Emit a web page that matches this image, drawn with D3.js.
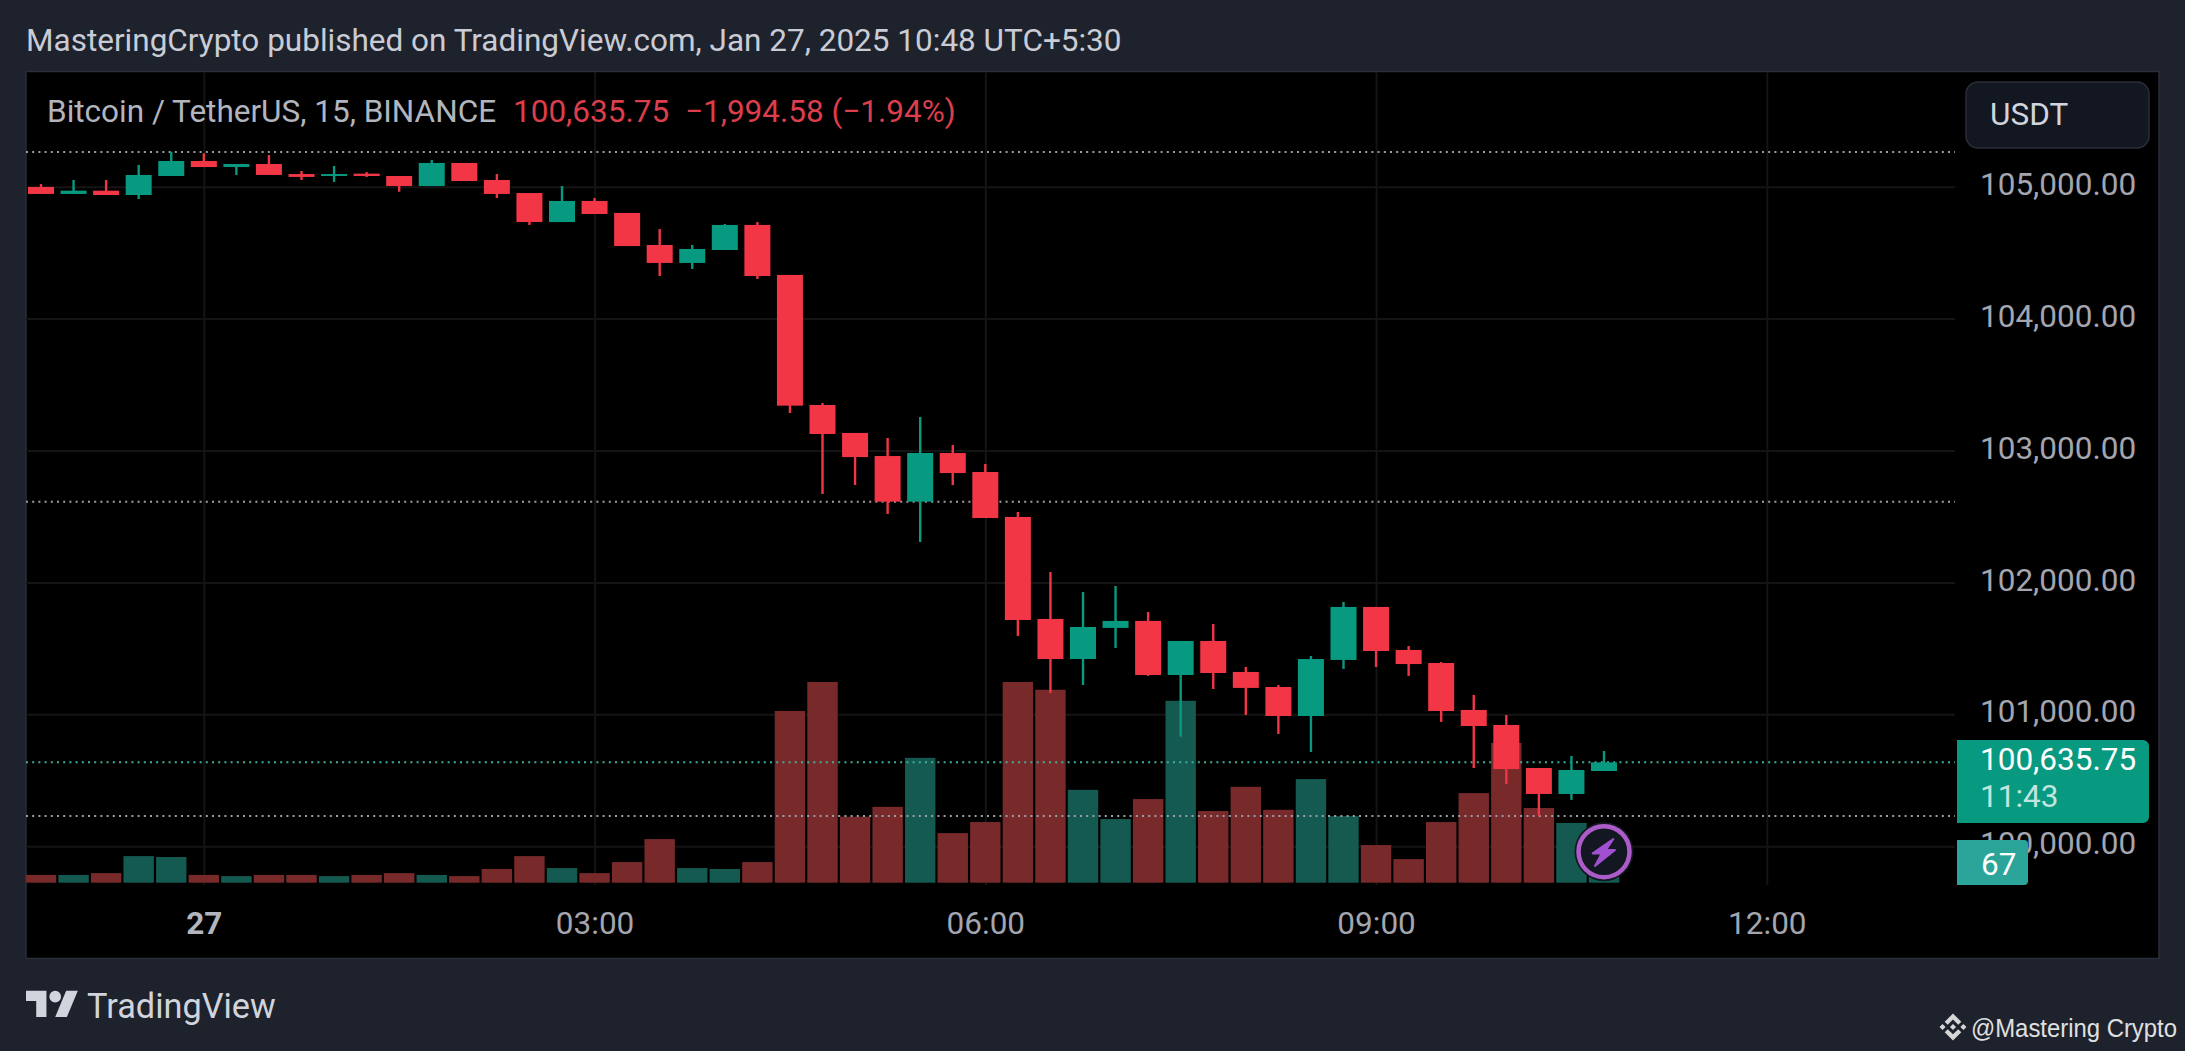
<!DOCTYPE html>
<html>
<head>
<meta charset="utf-8">
<title>BTCUSDT</title>
<script src="https://cdn.jsdelivr.net/npm/d3@7"></script>
<style>
  html, body { margin: 0; padding: 0; background: #1e222d; overflow: hidden; }
  svg { display: block; }
  text { font-family: Roboto, sans-serif; }
</style>
</head>
<body>
<svg id="chart" width="2185" height="1051"></svg>
<script>
// 15 minute bars, 22:45 Jan 26 to 10:45 Jan 27
const opens = [104998, 104945, 104970, 104937, 105081, 105195, 105149, 105172, 105096, 105081, 105099, 105081, 105005, 105180, 105051, 104952, 104732, 104892, 104801, 104558, 104422, 104520, 104710, 104331, 103345, 103133, 102958, 102612, 102981, 102837, 102496, 101723, 101419, 101655, 101708, 101298, 101556, 101321, 101207, 100987, 101412, 101814, 101488, 101389, 101033, 100919, 100593, 100396, 100570]
const highs = [105020, 105051, 105051, 105165, 105265, 105253, 105172, 105240, 105119, 105157, 105111, 105081, 105202, 105180, 105096, 104952, 105005, 104914, 104801, 104679, 104558, 104717, 104732, 104331, 103360, 103133, 103095, 103254, 103042, 102898, 102534, 102079, 101927, 101973, 101776, 101556, 101685, 101359, 101222, 101442, 101852, 101814, 101518, 101396, 101147, 100995, 100593, 100684, 100722]
const lows = [104945, 104945, 104937, 104907, 105081, 105149, 105089, 105089, 105051, 105036, 105074, 104962, 105005, 105043, 104914, 104710, 104732, 104793, 104550, 104323, 104376, 104520, 104300, 103284, 102670, 102738, 102519, 102306, 102738, 102488, 101594, 101162, 101222, 101503, 101291, 100830, 101192, 100995, 100851, 100714, 101344, 101359, 101291, 100942, 100593, 100472, 100229, 100351, 100570]
const closes = [104945, 104970, 104937, 105089, 105195, 105149, 105172, 105089, 105074, 105096, 105081, 105005, 105180, 105043, 104945, 104732, 104892, 104793, 104550, 104422, 104528, 104710, 104323, 103340, 103125, 102950, 102612, 102981, 102829, 102488, 101715, 101419, 101662, 101708, 101298, 101556, 101313, 101200, 100987, 101419, 101814, 101480, 101381, 101025, 100911, 100585, 100396, 100578, 100635.75]
const volumes = [26, 26, 32, 89, 86, 26, 22, 26, 26, 22, 26, 32, 26, 22, 46, 89, 49, 32, 69, 146, 49, 46, 69, 575, 672, 221, 254, 418, 166, 203, 672, 646, 311, 213, 280, 609, 240, 321, 244, 347, 223, 126, 79, 203, 300, 468, 250, 200, 67]

const priceTicks = [100000, 101000, 102000, 103000, 104000, 105000]
const timeTickBars = [5, 17, 29, 41, 53]
const timeTickLabels = ["27", "03:00", "06:00", "09:00", "12:00"]

const hiLevel = 105263
const prevClose = 102612
const lastPrice = 100635.75
const loLevel = 100229

const titleText = "MasteringCrypto published on TradingView.com, Jan 27, 2025 10:48 UTC+5:30"
const symbolText = "Bitcoin / TetherUS, 15, BINANCE"
const priceText = "100,635.75"
const changeText = "\u22121,994.58 (\u22121.94%)"
const countdownText = "11:43"
const volumeText = "67"

const RED = "#f23645"
const GREEN = "#089981"
const VOL_RED = "#782a2b"
const VOL_GREEN = "#155a50"
const GRID = "#141414"
const LEGEND_RED = "#dd3e4b"
const AXIS_TEXT = "#a3a6af"

const paneLeft = 26
const paneRight = 1955
const paneBottom = 885

const svg = d3.select("#chart")

const x = d3.scaleLinear().domain([0, 48]).range([41, 1604])
const y = d3.scaleLinear().domain([100000, 105000]).range([846.2, 186.7])
const yVol = d3.scaleLinear().domain([0, 672]).range([882.7, 682])

svg.append("rect")
  .attr("x", 26).attr("y", 71.5)
  .attr("width", 2133).attr("height", 887)
  .attr("fill", "#000")
  .attr("stroke", "#2a2e39")
  .attr("stroke-width", 1.5)

// grid
const gridH = svg.append("g")
  .attr("transform", `translate(${paneLeft},0)`)
  .call(d3.axisLeft(y).tickValues(priceTicks).tickSize(paneLeft - paneRight).tickFormat(""))
const gridV = svg.append("g")
  .attr("transform", "translate(0,72)")
  .call(d3.axisBottom(x).tickValues(timeTickBars).tickSize(paneBottom - 72).tickFormat(""))
for (const g of [gridH, gridV]) {
  g.select(".domain").remove()
  g.selectAll("line").attr("stroke", GRID).attr("stroke-width", 2)
}

// volume
const bars = d3.range(closes.length)
const isUp = i => closes[i] >= opens[i]

svg.append("g").selectAll("rect")
  .data(bars)
  .join("rect")
  .attr("x", i => x(i) - 15.2)
  .attr("width", 30.4)
  .attr("y", i => yVol(volumes[i]))
  .attr("height", i => yVol(0) - yVol(volumes[i]))
  .attr("fill", i => isUp(i) ? VOL_GREEN : VOL_RED)

// high, previous close, last and low levels
svg.append("g").selectAll("line")
  .data([hiLevel, prevClose, lastPrice, loLevel])
  .join("line")
  .attr("x1", paneLeft)
  .attr("x2", paneRight)
  .attr("y1", d => y(d))
  .attr("y2", d => y(d))
  .attr("stroke", d => d === lastPrice ? "#3fae9a" : "#9b9ea6")
  .attr("stroke-width", 2)
  .attr("stroke-dasharray", "2 4.2")

// candles
const candles = svg.append("g").selectAll("g")
  .data(bars)
  .join("g")
  .attr("fill", i => isUp(i) ? GREEN : RED)
  .attr("stroke", i => isUp(i) ? GREEN : RED)

candles.append("line")
  .attr("x1", i => x(i))
  .attr("x2", i => x(i))
  .attr("y1", i => y(highs[i]))
  .attr("y2", i => y(lows[i]))
  .attr("stroke-width", 2.4)

candles.append("rect")
  .attr("x", i => x(i) - 13)
  .attr("width", 26)
  .attr("y", i => y(Math.max(opens[i], closes[i])))
  .attr("height", i => Math.abs(y(opens[i]) - y(closes[i])))
  .attr("stroke", "none")

// axes
const priceAxis = svg.append("g")
  .attr("transform", "translate(1980,-2.4)")
  .call(d3.axisRight(y).tickValues(priceTicks).tickSize(0).tickPadding(0).tickFormat(d3.format(",.2f")))
priceAxis.select(".domain").remove()
priceAxis.selectAll("text")
  .attr("fill", AXIS_TEXT)
  .style("font-family", "Roboto, sans-serif")
  .style("font-size", "31.5px")

const timeAxis = svg.append("g")
  .attr("transform", "translate(0,934)")
  .call(d3.axisBottom(x).tickValues(timeTickBars).tickSize(0).tickPadding(0)
    .tickFormat((d, i) => timeTickLabels[i]))
timeAxis.select(".domain").remove()
timeAxis.selectAll("text")
  .attr("y", 0)
  .attr("dy", 0)
  .style("font-family", "Roboto, sans-serif")
  .style("font-size", "31.5px")
  .style("font-weight", (d, i) => i === 0 ? 700 : 400)
  .style("fill", (d, i) => i === 0 ? "#b2b5be" : AXIS_TEXT)

// header
svg.append("text").attr("x", 26).attr("y", 51)
  .attr("fill", "#c9ccd4").attr("font-size", 31.5).text(titleText)
svg.append("text").attr("x", 47).attr("y", 122)
  .attr("fill", "#b2b5be").attr("font-size", 31.5).text(symbolText)
svg.append("text").attr("x", 513).attr("y", 122)
  .attr("fill", LEGEND_RED).attr("font-size", 31.5).text(priceText)
svg.append("text").attr("x", 685).attr("y", 122)
  .attr("fill", LEGEND_RED).attr("font-size", 31.5).text(changeText)

// currency button
svg.append("rect")
  .attr("x", 1966).attr("y", 82)
  .attr("width", 183).attr("height", 66)
  .attr("rx", 12)
  .attr("fill", "#131722")
  .attr("stroke", "#2a2e39")
  .attr("stroke-width", 1.5)
svg.append("text").attr("x", 1990).attr("y", 125)
  .attr("fill", "#d1d4dc").attr("font-size", 31.5).text("USDT")

// last price tag
svg.append("path")
  .attr("d", "M1957 740H2143a6 6 0 0 1 6 6V817a6 6 0 0 1 -6 6H1957Z")
  .attr("fill", GREEN)
svg.append("text").attr("x", 1980).attr("y", 770)
  .attr("fill", "#fff").attr("font-size", 31.5).text(d3.format(",.2f")(lastPrice))
svg.append("text").attr("x", 1980).attr("y", 807)
  .attr("fill", "#fff").attr("fill-opacity", 0.75).attr("font-size", 31.5).text(countdownText)

// volume tag
svg.append("path")
  .attr("d", "M1957 840H2024a4 4 0 0 1 4 4V881a4 4 0 0 1 -4 4H1957Z")
  .attr("fill", "#2ba599")
svg.append("text").attr("x", 1981).attr("y", 875)
  .attr("fill", "#fff").attr("font-size", 31.5).text(volumeText)

// bolt badge over the last bar
const badge = svg.append("g").attr("transform", `translate(${x(48)},851.7)`)
badge.append("circle").attr("r", 29.5).attr("fill", "#131722")
badge.append("circle").attr("r", 25.5)
  .attr("fill", "#131722").attr("stroke", "#ab5cc8").attr("stroke-width", 4.5)
badge.append("path")
  .attr("d", "M9.3 -12.7L-11.3 1.7H-2.3L-9 14.3L11 -1.7H2Z")
  .attr("fill", "#a050d0")
  .attr("stroke", "#a050d0")
  .attr("stroke-width", 2)
  .attr("stroke-linejoin", "round")

// footer
const logo = svg.append("g")
  .attr("transform", "translate(26,985) scale(1.46)")
  .attr("fill", "#d1d4dc")
logo.append("path").attr("d", "M14 22H7V11H0V4h14v18zM28 22h-8l7.5-18h8L28 22z")
logo.append("circle").attr("cx", 20).attr("cy", 8).attr("r", 4)
svg.append("text").attr("x", 87).attr("y", 1018)
  .attr("fill", "#d1d4dc").attr("font-size", 34.3).text("TradingView")

const mark = svg.append("g")
  .attr("transform", "translate(1939.5,1013.5) scale(0.213)")
  .attr("fill", "#d6d6d6")
mark.append("path").attr("d", "M38.73 53.2l24.59-24.58 24.6 24.6 14.3-14.31L63.32 0 24.42 38.9z")
mark.append("path").attr("d", "M0 63.31l14.3-14.31 14.31 14.31-14.31 14.3z")
mark.append("path").attr("d", "M38.73 73.41l24.59 24.59 24.6-24.6 14.31 14.29-38.9 38.91-38.91-38.88z")
mark.append("path").attr("d", "M98 63.31l14.3-14.31 14.31 14.3-14.31 14.32z")
mark.append("path").attr("d", "M77.83 63.3L63.32 48.78 52.59 59.51l-1.24 1.23-2.54 2.54 14.51 14.5 14.51-14.47z")
svg.append("text").attr("x", 1971).attr("y", 1037)
  .attr("fill", "#e0e0e0").attr("font-size", 25)
  .attr("textLength", 206)
  .attr("lengthAdjust", "spacingAndGlyphs")
  .style("font-family", "'Liberation Sans', sans-serif")
  .text("@Mastering Crypto")
</script>
</body>
</html>
